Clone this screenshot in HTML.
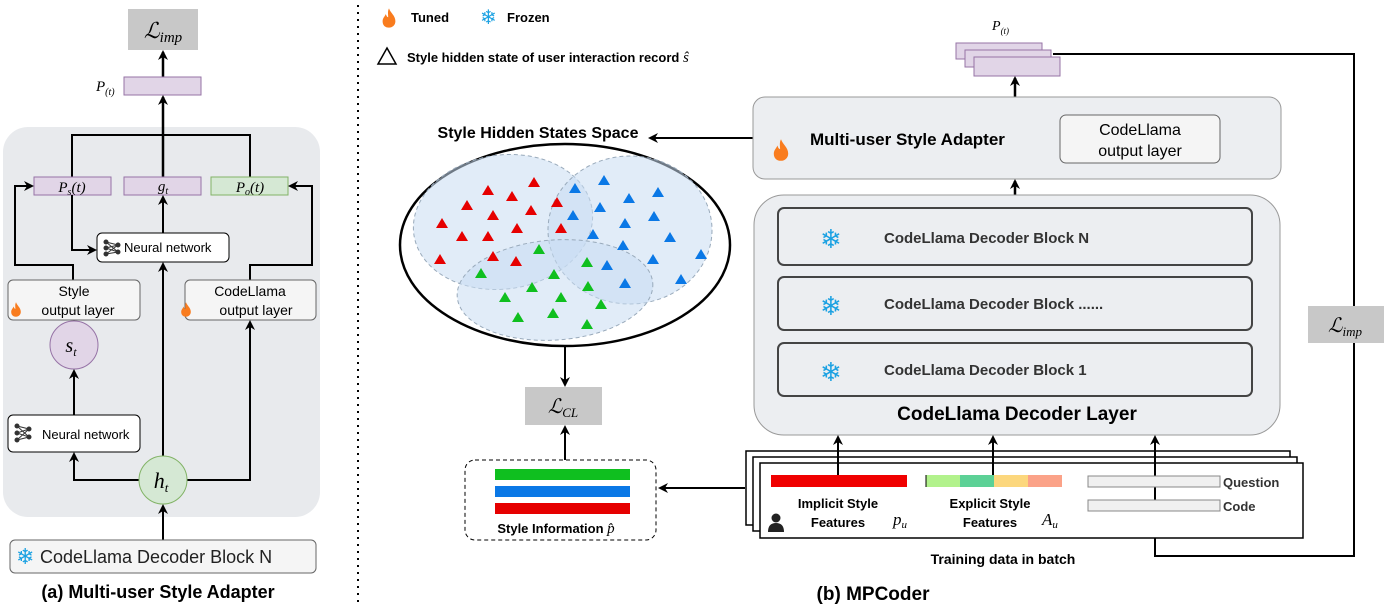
<!DOCTYPE html>
<html><head><meta charset="utf-8"><style>
body{margin:0;background:#fff}
svg{display:block;font-family:"Liberation Sans",sans-serif}
.b{font-weight:bold}
.m{font-family:"Liberation Serif",serif;font-style:italic}
</style></head><body>
<svg width="1388" height="607" viewBox="0 0 1388 607" xmlns="http://www.w3.org/2000/svg">
<defs>
<marker id="a" markerWidth="10" markerHeight="10" refX="8" refY="5" orient="auto" markerUnits="userSpaceOnUse"><path d="M0,0 L10,5 L0,10 L3,5 z" fill="#000"/></marker>
<symbol id="fl" viewBox="0 0 20 24"><path d="M10,0 C12,6 18,9 18,16 C18,21 14,24 10,24 C5,24 2,21 2,16 C2,12 5,10 6,7 C7,10 8,11 9,11 C9,7 8,4 10,0z" fill="#f97c1e"/></symbol>
</defs>

<!-- LEFT PANEL -->
<rect x="3" y="127" width="317" height="390" rx="25" fill="#e8eaed"/>
<rect x="128" y="9" width="70" height="41" fill="#c8c8c8"/>
<text x="163" y="38" text-anchor="middle" font-size="22" class="m">ℒ<tspan font-size="15" dy="4">imp</tspan></text>
<line x1="163" y1="77" x2="163" y2="52" stroke="#000" stroke-width="2.5" marker-end="url(#a)"/>
<rect x="124" y="77" width="77" height="18" fill="#e1d5e7" stroke="#9673a6"/>
<text x="96" y="91" font-size="15" class="m">P<tspan font-size="10" dy="4">(t)</tspan></text>
<path d="M72,177 V135 H250 V177" fill="none" stroke="#000" stroke-width="2"/>
<line x1="163" y1="177" x2="163" y2="97" stroke="#000" stroke-width="2.5" marker-end="url(#a)"/>
<rect x="34" y="177" width="77" height="18" fill="#e1d5e7" stroke="#9673a6"/>
<text x="72" y="192" text-anchor="middle" font-size="15" class="m">P<tspan font-size="10" dy="3">s</tspan><tspan dy="-3">(t)</tspan></text>
<rect x="124" y="177" width="77" height="18" fill="#e1d5e7" stroke="#9673a6"/>
<text x="163" y="191" text-anchor="middle" font-size="15" class="m">g<tspan font-size="10" dy="3">t</tspan></text>
<rect x="211" y="177" width="77" height="18" fill="#d5e8d4" stroke="#82b366"/>
<text x="250" y="192" text-anchor="middle" font-size="15" class="m">P<tspan font-size="10" dy="3">o</tspan><tspan dy="-3">(t)</tspan></text>
<path d="M73,280 V265 H15 V186 H32" fill="none" stroke="#000" stroke-width="2" marker-end="url(#a)"/>
<path d="M250,280 V265 H312 V186 H290" fill="none" stroke="#000" stroke-width="2" marker-end="url(#a)"/>
<path d="M72,195 V250 H95" fill="none" stroke="#000" stroke-width="2" marker-end="url(#a)"/>
<line x1="163" y1="233" x2="163" y2="197" stroke="#000" stroke-width="2" marker-end="url(#a)"/>
<line x1="163" y1="456" x2="163" y2="264" stroke="#000" stroke-width="2" marker-end="url(#a)"/>
<rect x="97" y="233" width="132" height="29" rx="5" fill="#fff" stroke="#000"/>
<g stroke="#333" fill="#333"><circle cx="106" cy="242" r="2"/><circle cx="106" cy="248" r="2"/><circle cx="106" cy="254" r="2"/><circle cx="118" cy="245" r="2"/><circle cx="118" cy="252" r="2"/><path d="M106,242 L118,245 L106,248 L118,252 L106,254 M106,242 L118,252 M106,254 L118,245" fill="none"/></g>
<text x="124" y="252" font-size="13">Neural network</text>
<rect x="8" y="280" width="132" height="40" rx="5" fill="#f5f5f5" stroke="#666"/>
<text x="74" y="296" text-anchor="middle" font-size="14">Style</text>
<text x="78" y="315" text-anchor="middle" font-size="14">output layer</text>
<use href="#fl" x="10" y="302" width="12" height="15"/>
<rect x="185" y="280" width="131" height="40" rx="5" fill="#f5f5f5" stroke="#666"/>
<text x="250" y="296" text-anchor="middle" font-size="14">CodeLlama</text>
<text x="256" y="315" text-anchor="middle" font-size="14">output layer</text>
<use href="#fl" x="180" y="302" width="12" height="15"/>
<line x1="74" y1="321" x2="74" y2="322" stroke="#000"/>
<line x1="74" y1="345" x2="74" y2="322" stroke="#000" stroke-width="2" marker-end="url(#a)"/>
<circle cx="74" cy="345" r="24" fill="#e1d5e7" stroke="#9673a6"/>
<text x="71" y="352" text-anchor="middle" font-size="20" class="m">s<tspan font-size="12" dy="4">t</tspan></text>
<line x1="74" y1="415" x2="74" y2="371" stroke="#000" stroke-width="2" marker-end="url(#a)"/>
<rect x="8" y="415" width="132" height="37" rx="5" fill="#fff" stroke="#000"/>
<g stroke="#333" fill="#333"><circle cx="17" cy="426" r="2"/><circle cx="17" cy="433" r="2"/><circle cx="17" cy="440" r="2"/><circle cx="29" cy="429" r="2"/><circle cx="29" cy="437" r="2"/><path d="M17,426 L29,429 L17,433 L29,437 L17,440 M17,426 L29,437 M17,440 L29,429" fill="none"/></g>
<text x="42" y="439" font-size="13">Neural network</text>
<path d="M140,480 H74 V454" fill="none" stroke="#000" stroke-width="2" marker-end="url(#a)"/>
<path d="M186,480 H250 V322" fill="none" stroke="#000" stroke-width="2" marker-end="url(#a)"/>
<line x1="163" y1="540" x2="163" y2="506" stroke="#000" stroke-width="2" marker-end="url(#a)"/>
<circle cx="163" cy="480" r="24" fill="#d5e8d4" stroke="#82b366"/>
<text x="161" y="488" text-anchor="middle" font-size="22" class="m">h<tspan font-size="13" dy="4">t</tspan></text>
<rect x="10" y="540" width="306" height="33" rx="5" fill="#f5f5f5" stroke="#666"/>
<text x="16" y="564" font-size="22" fill="#1ba1e2">❄</text>
<text x="40" y="563" font-size="18" fill="#222">CodeLlama Decoder Block N</text>
<text x="158" y="598" text-anchor="middle" font-size="18" class="b">(a) Multi-user Style Adapter</text>

<line x1="358" y1="5" x2="358" y2="602" stroke="#000" stroke-width="2" stroke-dasharray="2,5"/>

<!-- RIGHT PANEL legend -->
<use href="#fl" x="381" y="8" width="16" height="20"/>
<text x="411" y="22" font-size="13" class="b">Tuned</text>
<text x="480" y="24" font-size="20" fill="#1ba1e2">❄</text>
<text x="507" y="22" font-size="13" class="b">Frozen</text>
<path d="M387,48 L396,64 L378,64z" fill="none" stroke="#000" stroke-width="1.5"/>
<text x="407" y="62" font-size="13" class="b">Style hidden state of user interaction record <tspan class="m" font-weight="normal" font-size="15">ŝ</tspan></text>

<text x="538" y="138" text-anchor="middle" font-size="16" class="b">Style Hidden States Space</text>
<line x1="753" y1="138" x2="650" y2="138" stroke="#000" stroke-width="2" marker-end="url(#a)"/>

<ellipse cx="565" cy="245" rx="165" ry="101" fill="#fff" stroke="#000" stroke-width="2.5"/>
<g fill="#c9dcf3" fill-opacity="0.55" stroke="#9ab" stroke-dasharray="4,3">
<ellipse cx="503" cy="222" rx="90" ry="67" transform="rotate(-8 503 222)"/>
<ellipse cx="630" cy="230" rx="82" ry="74"/>
<ellipse cx="555" cy="290" rx="98" ry="50" transform="rotate(-4 555 290)"/>
</g>
<g fill="#e60000">
<path d="M534,177l6,10h-12z M488,185l6,10h-12z M512,191l6,10h-12z M467,200l6,10h-12z M531,205l6,10h-12z M557,197l6,10h-12z M493,210l6,10h-12z M442,218l6,10h-12z M517,223l6,10h-12z M561,223l6,10h-12z M462,231l6,10h-12z M488,231l6,10h-12z M440,254l6,10h-12z M493,251l6,10h-12z M516,256l6,10h-12z"/>
</g>
<g fill="#0a78e6">
<path d="M604,175l6,10h-12z M575,183l6,10h-12z M629,193l6,10h-12z M658,187l6,10h-12z M600,202l6,10h-12z M573,210l6,10h-12z M654,211l6,10h-12z M625,218l6,10h-12z M593,229l6,10h-12z M670,232l6,10h-12z M623,240l6,10h-12z M701,249l6,10h-12z M653,254l6,10h-12z M607,260l6,10h-12z M625,278l6,10h-12z M681,274l6,10h-12z"/>
</g>
<g fill="#0fbf1f">
<path d="M539,244l6,10h-12z M587,257l6,10h-12z M481,268l6,10h-12z M554,269l6,10h-12z M532,282l6,10h-12z M588,281l6,10h-12z M505,292l6,10h-12z M561,292l6,10h-12z M601,299l6,10h-12z M518,312l6,10h-12z M553,308l6,10h-12z M587,319l6,10h-12z"/>
</g>
<line x1="565" y1="346" x2="565" y2="385" stroke="#000" stroke-width="2" marker-end="url(#a)"/>
<rect x="525" y="387" width="77" height="38" fill="#c8c8c8"/>
<text x="563" y="413" text-anchor="middle" font-size="20" class="m">ℒ<tspan font-size="13" dy="4">CL</tspan></text>
<line x1="565" y1="460" x2="565" y2="427" stroke="#000" stroke-width="2" marker-end="url(#a)"/>
<rect x="465" y="460" width="191" height="80" rx="10" fill="#fff" stroke="#000" stroke-dasharray="4,3"/>
<rect x="495" y="469" width="135" height="11" fill="#0fbf1f"/>
<rect x="495" y="486" width="135" height="11" fill="#0a78e6"/>
<rect x="495" y="503" width="135" height="11" fill="#e60000"/>
<text x="556" y="533" text-anchor="middle" font-size="13" class="b">Style Information <tspan class="m" font-weight="normal" font-size="15">p̂</tspan></text>
<line x1="745" y1="488" x2="660" y2="488" stroke="#000" stroke-width="2" marker-end="url(#a)"/>

<!-- P(t) stack -->
<text x="992" y="30" font-size="14" class="m">P<tspan font-size="9" dy="4">(t)</tspan></text>
<rect x="956" y="43" width="86" height="16" fill="#e1d5e7" stroke="#9673a6"/>
<rect x="965" y="50" width="86" height="17" fill="#e1d5e7" stroke="#9673a6"/>
<rect x="974" y="57" width="86" height="19" fill="#e1d5e7" stroke="#9673a6"/>
<path d="M1053,54 H1354 V556 H1155 V516" fill="none" stroke="#000" stroke-width="2" marker-end="url(#a)"/>
<rect x="1308" y="306" width="76" height="37" fill="#c8c8c8"/>
<text x="1345" y="332" text-anchor="middle" font-size="20" class="m">ℒ<tspan font-size="13" dy="4">imp</tspan></text>
<line x1="1015" y1="97" x2="1015" y2="78" stroke="#000" stroke-width="2.5" marker-end="url(#a)"/>

<rect x="753" y="97" width="528" height="82" rx="12" fill="#eceef1" stroke="#999"/>
<text x="810" y="145" font-size="17" class="b">Multi-user Style Adapter</text>
<use href="#fl" x="772" y="138" width="18" height="24"/>
<rect x="1060" y="115" width="160" height="48" rx="6" fill="#f5f5f5" stroke="#666"/>
<text x="1140" y="135" text-anchor="middle" font-size="16">CodeLlama</text>
<text x="1140" y="156" text-anchor="middle" font-size="16">output layer</text>
<line x1="1015" y1="195" x2="1015" y2="181" stroke="#000" stroke-width="2.5" marker-end="url(#a)"/>

<rect x="754" y="195" width="526" height="240" rx="30" fill="#eceef1" stroke="#999"/>
<g fill="#eceef1" stroke="#444" stroke-width="2">
<rect x="778" y="208" width="474" height="57" rx="6"/>
<rect x="778" y="277" width="474" height="53" rx="6"/>
<rect x="778" y="343" width="474" height="53" rx="6"/>
</g>
<g font-size="26" fill="#1ba1e2"><text x="820" y="248">❄</text><text x="820" y="315">❄</text><text x="820" y="381">❄</text></g>
<g font-size="15" class="b" fill="#333">
<text x="884" y="243">CodeLlama Decoder Block N</text>
<text x="884" y="309">CodeLlama Decoder Block ......</text>
<text x="884" y="375">CodeLlama Decoder Block 1</text>
</g>
<text x="1017" y="420" text-anchor="middle" font-size="19" class="b">CodeLlama Decoder Layer</text>

<!-- training data -->
<rect x="746" y="451" width="544" height="74" fill="#fff" stroke="#000" stroke-width="1.5"/>
<rect x="753" y="457" width="544" height="74" fill="#fff" stroke="#000" stroke-width="1.5"/>
<rect x="760" y="463" width="543" height="75" fill="#fff" stroke="#000" stroke-width="1.5"/>
<line x1="838" y1="475" x2="838" y2="437" stroke="#000" stroke-width="2" marker-end="url(#a)"/>
<line x1="993" y1="475" x2="993" y2="437" stroke="#000" stroke-width="2" marker-end="url(#a)"/>
<line x1="1155" y1="500" x2="1155" y2="437" stroke="#000" stroke-width="2" marker-end="url(#a)"/>
<rect x="771" y="475" width="136" height="12" fill="#f00000"/>
<rect x="926" y="475" width="34" height="12" fill="#b2f28c"/>
<rect x="960" y="475" width="34" height="12" fill="#5cd196"/>
<rect x="994" y="475" width="34" height="12" fill="#fcd77d"/>
<rect x="1028" y="475" width="34" height="12" fill="#fba288"/>
<line x1="926" y1="475" x2="926" y2="487" stroke="#000"/>
<rect x="1088" y="476" width="132" height="11" fill="#f0f0f0" stroke="#888"/>
<rect x="1088" y="500" width="132" height="11" fill="#f0f0f0" stroke="#888"/>
<text x="1223" y="487" font-size="13" class="b" fill="#333">Question</text>
<text x="1223" y="511" font-size="13" class="b" fill="#333">Code</text>
<text x="838" y="508" text-anchor="middle" font-size="13" class="b">Implicit Style</text>
<text x="838" y="527" text-anchor="middle" font-size="13" class="b">Features</text>
<text x="893" y="525" font-size="17" class="m">p<tspan font-size="11" dy="3">u</tspan></text>
<text x="990" y="508" text-anchor="middle" font-size="13" class="b">Explicit Style</text>
<text x="990" y="527" text-anchor="middle" font-size="13" class="b">Features</text>
<text x="1042" y="525" font-size="17" class="m">A<tspan font-size="11" dy="3">u</tspan></text>
<circle cx="776" cy="518" r="4.5" fill="#222"/>
<path d="M768,532 Q768,523 776,523 Q784,523 784,532z" fill="#222"/>
<text x="1003" y="564" text-anchor="middle" font-size="14" class="b">Training data in batch</text>
<text x="873" y="600" text-anchor="middle" font-size="19" class="b">(b) MPCoder</text>
</svg></body></html>
